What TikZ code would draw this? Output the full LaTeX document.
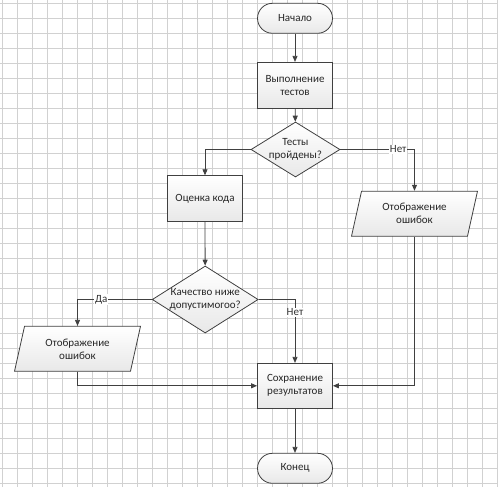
\documentclass[tikz,border=0pt]{standalone}
\usepackage{fontspec}
\setmainfont{Carlito}
\usetikzlibrary{shapes.geometric, arrows.meta}

\begin{document}
\begin{tikzpicture}[x=1pt, y=-1pt, font=\fontsize{11}{13}\selectfont]
  \tikzstyle{box} = [draw=black!75, line width=0.8pt, top color=white, bottom color=black!9,
    text=black!85, align=center, inner sep=0pt]
  \tikzstyle{term} = [box, rectangle, rounded corners=15pt, minimum width=75pt, minimum height=30pt]
  \tikzstyle{proc} = [box, rectangle, minimum width=75pt, minimum height=46pt]
  \tikzstyle{decision} = [box, diamond, aspect=1.6]
  \tikzstyle{io} = [box, trapezium, trapezium left angle=64, trapezium right angle=116,
    trapezium stretches body, minimum width=126pt, minimum height=45pt]
  \tikzstyle{line} = [draw=black!75, line width=0.8pt, -{Triangle[length=6pt, width=5pt]}]
  \tikzstyle{lbl} = [fill=white, inner sep=1pt, text=black!80]

  \useasboundingbox (0, 0) rectangle (498, 487);
  % grid
  \foreach \i in {0,...,33} {
    \draw[black!18, line width=0.8pt] ({2.7 + 15*\i}, 0) -- ({2.7 + 15*\i}, 487);
    \draw[black!18, line width=0.8pt] (0, {3.3 + 15*\i}) -- (498, {3.3 + 15*\i});
  }

  \node[term] (start) at (295, 18.3) {Начало};
  \node[proc] (tests) at (295, 85.3) {Выполнение\\тестов};
  \node[decision, minimum width=89pt, minimum height=53pt] (passed) at (295.5, 149.5) {Тесты\\пройдены?};
  \node[proc] (review) at (205, 198.7) {Оценка кода};
  \node[io] (errright) at (414.5, 213.7) {Отображение\\ошибок};
  \node[decision, minimum width=105pt, minimum height=67pt] (quality) at (205.2, 299.5) {Качество ниже\\допустимогоо?};
  \node[io] (errleft) at (77.5, 348.8) {Отображение\\ошибок};
  \node[proc, minimum height=45pt] (save) at (295, 385.8) {Сохранение\\результатов};
  \node[term] (finish) at (295, 468.3) {Конец};

  \draw[line] (start) -- (tests);
  \draw[line] (tests) -- (passed);
  \draw[line] (passed.west) -| (review.north);
  \draw[line] (passed.east) -| node[lbl, pos=0.39] {Нет} (errright.north);
  \draw[line] (review) -- (quality);
  \draw[line] (quality.west) -| node[lbl, pos=0.34] {Да} (errleft.north);
  \draw[line] (quality.east) -| node[lbl, pos=0.6] {Нет} (save.north);
  \draw[line] (errright.south) |- (save.east);
  \draw[line] (errleft.south) |- (save.west);
  \draw[line] (save) -- (finish);
\end{tikzpicture}
\end{document}
